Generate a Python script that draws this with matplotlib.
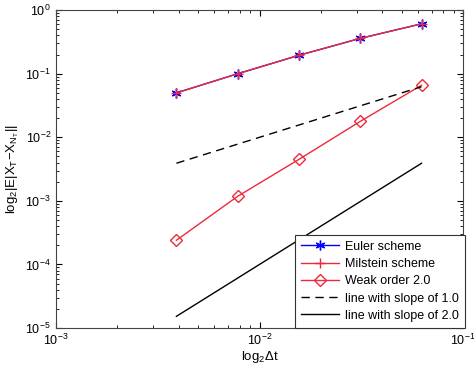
import numpy as np
import matplotlib
matplotlib.use('Agg')
import matplotlib.pyplot as plt

plt.rcParams['font.family'] = ['Liberation Sans', 'DejaVu Sans']
plt.rcParams['mathtext.fontset'] = 'custom'
plt.rcParams['mathtext.rm'] = 'Liberation Sans'
plt.rcParams['mathtext.it'] = 'Liberation Sans'
plt.rcParams['mathtext.default'] = 'regular'

# step sizes 2^-8 ... 2^-4
dt = np.array([2.0**-8, 2.0**-7, 2.0**-6, 2.0**-5, 2.0**-4])
euler_err = [0.050, 0.100, 0.195, 0.36, 0.61]
milstein_err = [0.050, 0.100, 0.195, 0.36, 0.61]
weak2_err = [0.00024, 0.00118, 0.0045, 0.0178, 0.066]
slope1 = dt ** 1.0
slope2 = dt ** 2.0

red = '#ee2a3a'

fig = plt.figure(figsize=(4.74, 3.70), dpi=100)
ax = fig.add_axes([0.118, 0.1135, 0.859, 0.859])

ax.loglog(dt, euler_err, color='blue', marker=(6, 2, 0), markersize=7, mew=1, lw=1, label='Euler scheme')
ax.loglog(dt, milstein_err, color=red, marker='+', markersize=7, lw=1, label='Milstein scheme')
ax.loglog(dt, weak2_err, color=red, marker='D', markersize=6.5, mfc='none', lw=1, label='Weak order 2.0')
ax.loglog(dt, slope1, color='k', ls=(0, (6, 4)), lw=1, label='line with slope of 1.0')
ax.loglog(dt, slope2, color='k', lw=1, label='line with slope of 2.0')

ax.set_xlim(1e-3, 1e-1)
ax.set_ylim(1e-5, 1e0)
ax.tick_params(which='both', direction='in', top=True, right=True, labelsize=9)
ax.tick_params(which='major', length=4)
ax.tick_params(which='minor', length=2)
for s in ax.spines.values():
    s.set_color('#444444')

ax.set_xlabel(r'log$_2$$\Delta$t', fontsize=9.5, labelpad=1)
ax.set_ylabel(r'log$_2$|E|X$_T$$-$X$_{N_T}$||', fontsize=9.5, labelpad=3)

leg = ax.legend(loc='lower right', fontsize=9, handlelength=3.0, handletextpad=0.5,
                borderaxespad=0, fancybox=False, framealpha=1, edgecolor='#333333',
                bbox_to_anchor=(1.005, 0.0), labelspacing=0.42, borderpad=0.5)
leg.get_frame().set_linewidth(0.8)

fig.savefig('out.png', dpi=100)
